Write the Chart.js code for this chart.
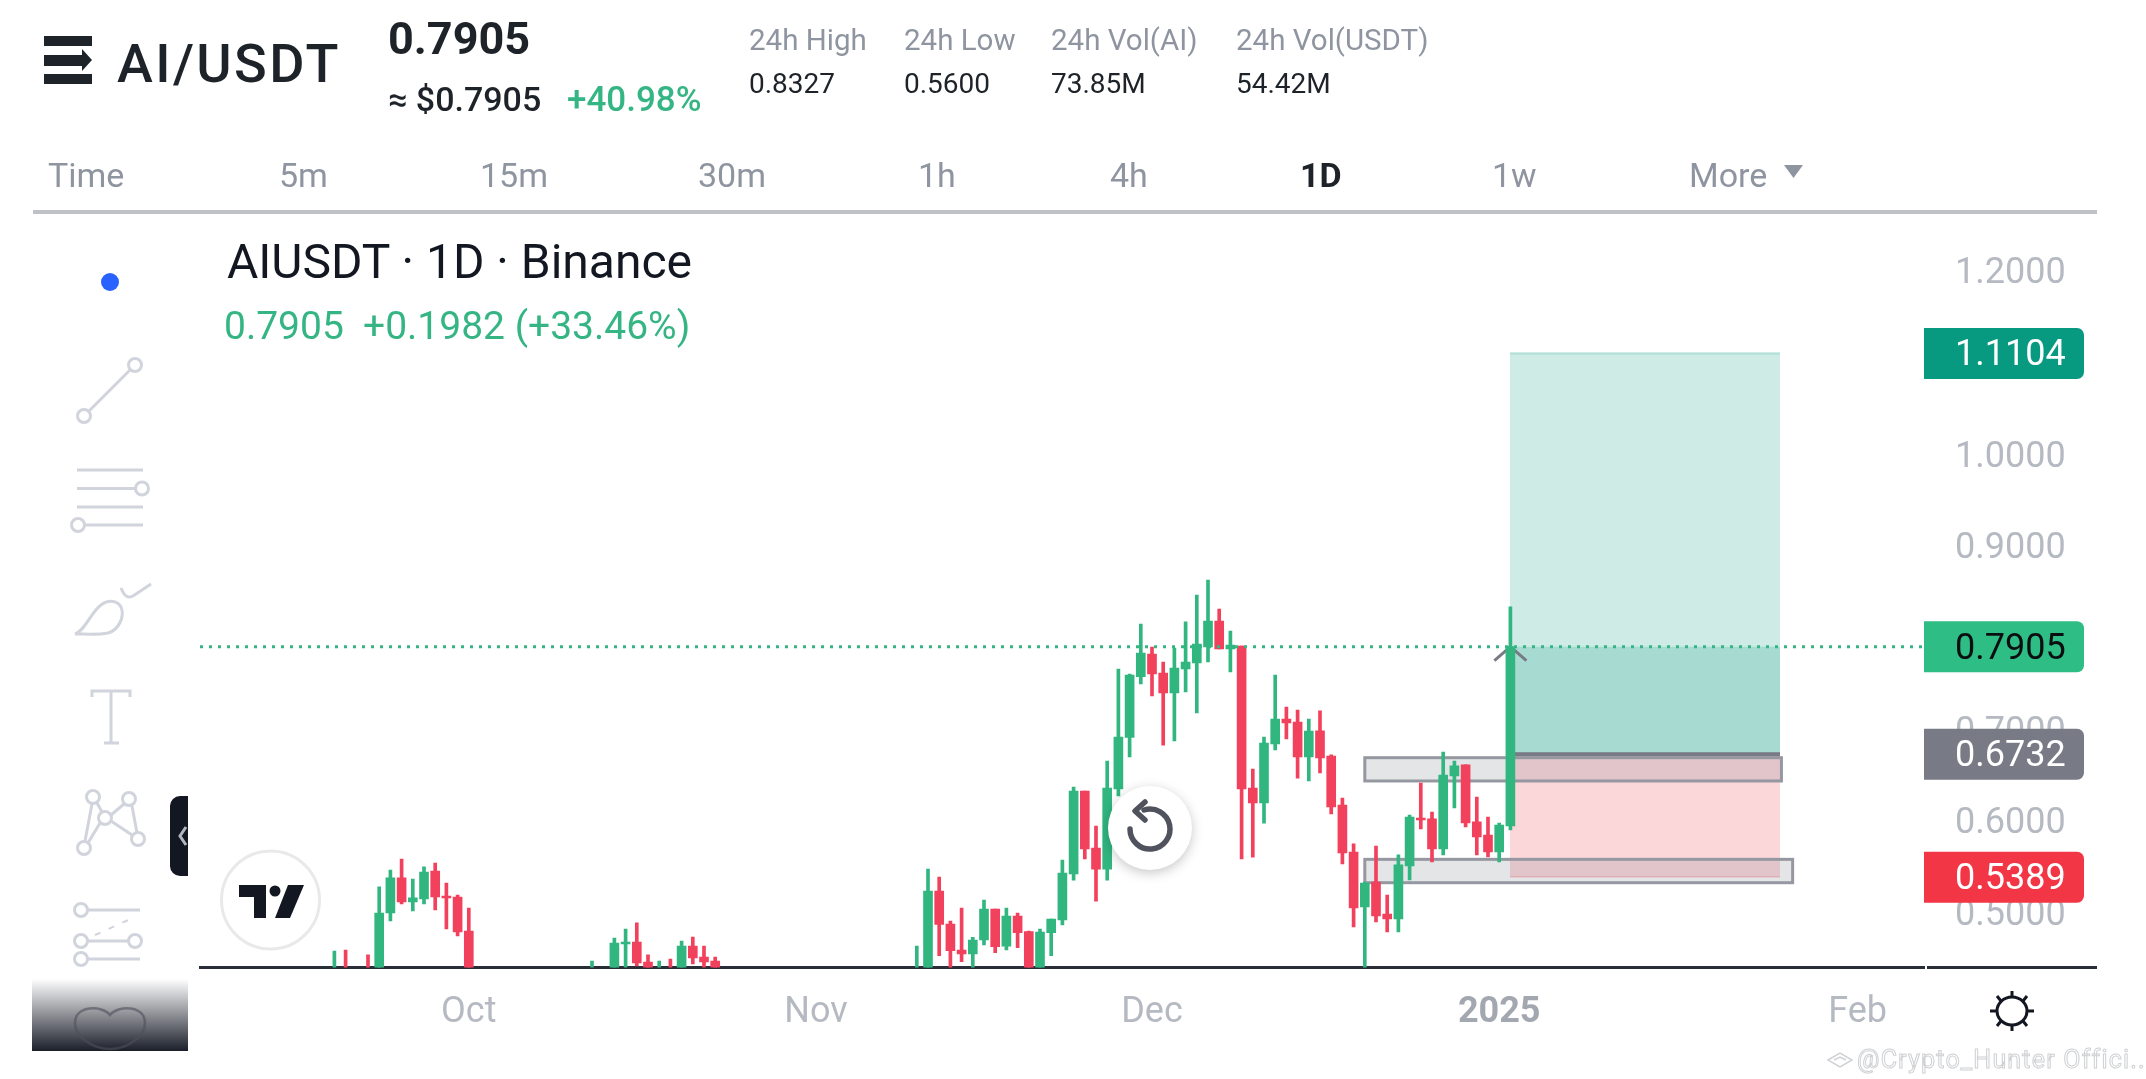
<!DOCTYPE html>
<html>
<head>
<meta charset="utf-8">
<title>AI/USDT</title>
<script src="https://cdn.jsdelivr.net/npm/chart.js"></script>
<style>
  html, body { margin: 0; padding: 0; background: #fff; overflow: hidden; }
  body { width: 2146px; height: 1079px; position: relative; font-family: Roboto, sans-serif; color: #1e2329; }
  canvas { position: absolute; left: 0; top: 0; }
  svg { position: absolute; left: 0; top: 0; pointer-events: none; }
  .t { position: absolute; line-height: 1; white-space: pre; }
  .stat { font-size: 29.5px; color: #8f95a0; top: 26px; }
  .val { font-size: 28px; top: 70px; }
  .tab { font-size: 34px; color: #8f95a0; top: 158px; }
  .green { color: #35b583; }
</style>
</head>
<body>
<canvas id="chart" width="2146" height="1079"></canvas>

<div class="t" style="left:117px;top:37px;font-size:54px;font-weight:500;letter-spacing:2.400px">AI/USDT</div>
<div class="t" style="left:388px;top:16px;font-size:45px;font-weight:700">0.7905</div>
<div class="t" style="left:388px;top:82px;font-size:34px;font-weight:500">≈ $0.7905</div>
<div class="t green" style="left:567px;top:82px;font-size:35px;font-weight:500">+40.98%</div>

<div class="t stat" style="left:749px">24h High</div>
<div class="t stat" style="left:904px">24h Low</div>
<div class="t stat" style="left:1051px">24h Vol(AI)</div>
<div class="t stat" style="left:1236px">24h Vol(USDT)</div>
<div class="t val" style="left:749px">0.8327</div>
<div class="t val" style="left:904px">0.5600</div>
<div class="t val" style="left:1051px">73.85M</div>
<div class="t val" style="left:1236px">54.42M</div>

<div class="t tab" style="left:48px">Time</div>
<div class="t tab" style="left:279px">5m</div>
<div class="t tab" style="left:480px">15m</div>
<div class="t tab" style="left:698px">30m</div>
<div class="t tab" style="left:918px">1h</div>
<div class="t tab" style="left:1110px">4h</div>
<div class="t tab" style="left:1300px;color:#1e2329;font-weight:700">1D</div>
<div class="t tab" style="left:1492px">1w</div>
<div class="t tab" style="left:1689px">More</div>

<div class="t" style="left:227px;top:238px;font-size:48px;color:#131722">AIUSDT · 1D · Binance</div>
<div class="t green" style="left:224px;top:307px;font-size:39px">0.7905</div>
<div class="t green" style="left:363px;top:307px;font-size:39px">+0.1982 (+33.46%)</div>

<div class="t" style="left:1857px;top:1047px;font-size:25px;letter-spacing:1.2px;color:#fff;-webkit-text-stroke:1px #cfd1d4">@Crypto_Hunter Offici...</div>

<svg width="2146" height="1079" viewBox="0 0 2146 1079">
  <defs>
    <linearGradient id="fade" x1="0" y1="0" x2="0" y2="1">
      <stop offset="0" stop-color="#fff"/>
      <stop offset="1" stop-color="#1b1f2a"/>
    </linearGradient>
  </defs>
  <!-- header menu mark -->
  <g fill="#1e2329">
    <rect x="44" y="36" width="48" height="10"/>
    <rect x="44" y="74" width="48" height="10"/>
    <path d="M44 55h38V49l10 11-10 11v-5H44z"/>
  </g>
  <rect x="33" y="210" width="2064" height="4" fill="#bec2c6"/>
  <path d="M1784 165h19l-9.500 13z" fill="#8f95a0"/>

  <!-- drawing tools -->
  <circle cx="110" cy="282" r="9" fill="#2962ff"/>
  <g fill="none" stroke="#d1d4dc" stroke-width="3">
    <circle cx="84" cy="416" r="6.500"/><circle cx="135" cy="365" r="6.500"/><path d="M89 411l41-41"/>
    <path d="M77 470h66M77 488.500h58M77 507h66M85 525h58"/><circle cx="142" cy="488.500" r="6.500"/><circle cx="78" cy="525" r="6.500"/>
    <path d="M75 634c10-3 16-22 26-29 8-6 17-4 20 2 4 9-2 23-13 26-10 2-23 1-33 1zM121 588c4 10 8 10 12 8l18-12"/>
    <path d="M92 697v-6h38v6M111 691v52M104 743h15"/>
    <circle cx="93" cy="797" r="6.500"/><circle cx="129" cy="799" r="6.500"/><circle cx="105" cy="818" r="6.500"/><circle cx="84" cy="848" r="6.500"/><circle cx="138" cy="839" r="6.500"/>
    <path d="M92 804l-7 37M97 803l5 9M88 843l12-20M111 815l13-11M132 806l5 27M111 821l21 14"/>
    <circle cx="81" cy="910" r="6.500"/><circle cx="81" cy="941" r="6.500"/><circle cx="135" cy="941" r="6.500"/><circle cx="81" cy="959" r="6.500"/>
    <path d="M88 910h52M88 941h40M88 959h52"/><path d="M95 935l40-18" stroke-dasharray="6 9" stroke-width="2"/>
  </g>
  <path d="M188 796h-8a10 10 0 0 0-10 10v60a10 10 0 0 0 10 10h8z" fill="#131722"/>
  <path d="M186 827l-6 9 6 9" fill="none" stroke="#b2b5be" stroke-width="3"/>
  <rect x="32" y="979" width="156" height="72" fill="url(#fade)"/>
  <path d="M110 1015c-8-10-35-10-35 8 0 14 18 26 35 26s35-12 35-26c0-18-27-18-35-8z" fill="none" stroke="#4d505a" stroke-width="2.500" opacity=".6"/>

  <!-- tradingview badge -->
  <circle cx="270.500" cy="900" r="49" fill="#fff" stroke="#e9e9e9" stroke-width="3"/>
  <g fill="#131722">
    <path d="M239 885h27v33h-12v-21h-15z"/><circle cx="275" cy="891" r="5.500"/><path d="M288 885h16l-14 33h-15z"/>
  </g>

  <!-- reload button -->
  <circle cx="1150" cy="828" r="42" fill="#fff" style="filter:drop-shadow(0 3px 6px rgba(0,0,0,.22))"/>
  <path d="M1144 810a20 20 0 1 1-14 19" fill="none" stroke="#50535e" stroke-width="5.500" stroke-linecap="round"/>
  <path d="M1145 802l-10 9 10 9" fill="none" stroke="#50535e" stroke-width="5.500" stroke-linecap="round" stroke-linejoin="round"/>

  <!-- theme icon -->
  <g fill="none" stroke="#131722" stroke-width="3">
    <ellipse cx="2012" cy="1011" rx="15" ry="14"/>
    <path d="M2012 991v6M2012 1025v6M1990 1011h7M2027 1011h7M1997 996l4 5M2027 996l-4 5M1997 1026l4-5M2027 1026l-4-5"/>
  </g>
  <g fill="none" stroke="#cfd1d4" stroke-width="1.500"><path d="M1828 1060l12-7 12 7-12 7zM1834 1060l6-3 6 3"/></g>
</svg>

<script>
// candles, x is a day counter from the left edge of the plot
const days = [12, 13, 15, 16, 17, 18, 19, 20, 21, 22, 23, 24,
  35, 37, 38, 39, 40, 41, 42, 43, 44, 45, 46,
  64, 65, 66, 67, 68, 69, 70, 71, 72, 73, 74, 75, 76, 77, 78, 79, 80, 81, 82, 83, 84, 85, 86, 87, 88, 89, 90,
  91, 92, 93, 94, 95, 96, 97, 98, 99, 100, 101, 102, 103, 104, 105, 106, 107, 108, 109, 110, 111, 112, 113, 114, 115, 116, 117];
const opens = [0.41, 0.43, 0.43, 0.43, 0.5000, 0.5382, 0.5120, 0.5153, 0.5458, 0.5185, 0.5174, 0.4803,
  0.41, 0.43, 0.4662, 0.4683, 0.4465, 0.41, 0.43, 0.43, 0.4640, 0.4520, 0.4476,
  0.41, 0.43, 0.5239, 0.4879, 0.4596, 0.4552, 0.4705, 0.5043, 0.4639, 0.4967, 0.4796, 0.43, 0.4785, 0.4923, 0.5425, 0.6331, 0.5709, 0.5479, 0.6352, 0.6916, 0.7578, 0.7825, 0.7618, 0.7400, 0.7662, 0.7727, 0.7902,
  0.8185, 0.7880, 0.7913, 0.6363, 0.6200, 0.6843, 0.7116, 0.7083, 0.6702, 0.6986, 0.6713, 0.6178, 0.5665, 0.5065, 0.5338, 0.4989, 0.4934, 0.5513, 0.6036, 0.6026, 0.5698, 0.6494, 0.6615, 0.5993, 0.5851, 0.5665, 0.5949];
const highs = [0.4585, 0.4596, 0.4542, 0.5284, 0.5469, 0.5589, 0.5371, 0.5502, 0.5545, 0.5327, 0.5196, 0.5054,
  0.4476, 0.4727, 0.4825, 0.4891, 0.4542, 0.4476, 0.4498, 0.4694, 0.4738, 0.4640, 0.4520,
  0.4639, 0.5479, 0.5392, 0.4912, 0.5054, 0.4734, 0.5141, 0.5043, 0.5054, 0.4999, 0.4803, 0.4825, 0.4934, 0.5578, 0.6374, 0.6331, 0.5949, 0.6658, 0.7662, 0.7607, 0.8153, 0.7902, 0.7738, 0.7891, 0.8175, 0.8469, 0.8633,
  0.8316, 0.8076, 0.7913, 0.6571, 0.6920, 0.7596, 0.7247, 0.7214, 0.7116, 0.7204, 0.6724, 0.6254, 0.5753, 0.5338, 0.5731, 0.5196, 0.5633, 0.6069, 0.6418, 0.6102, 0.6756, 0.6658, 0.6615, 0.6265, 0.6047, 0.5982, 0.8340];
const lows = [0.40, 0.40, 0.40, 0.42, 0.4913, 0.5098, 0.5022, 0.5098, 0.5033, 0.4825, 0.4749, 0.42,
  0.40, 0.42, 0.43, 0.4422, 0.42, 0.40, 0.40, 0.42, 0.4443, 0.43, 0.42,
  0.40, 0.42, 0.4534, 0.43, 0.4468, 0.43, 0.4650, 0.4567, 0.4596, 0.4621, 0.42, 0.42, 0.4534, 0.4869, 0.5359, 0.5589, 0.5130, 0.5359, 0.6276, 0.6702, 0.7498, 0.7367, 0.6832, 0.6876, 0.7411, 0.7182, 0.7738,
  0.7880, 0.7629, 0.5589, 0.5610, 0.5981, 0.6778, 0.6898, 0.6472, 0.6440, 0.6527, 0.6080, 0.5534, 0.4847, 0.43, 0.4902, 0.4792, 0.4792, 0.5360, 0.5916, 0.5556, 0.5633, 0.6145, 0.5938, 0.5633, 0.5611, 0.5556, 0.5905];
const closes = [0.43, 0.41, 0.41, 0.5000, 0.5382, 0.5120, 0.5164, 0.5447, 0.5174, 0.5164, 0.4793, 0.43,
  0.43, 0.4672, 0.4683, 0.4454, 0.43, 0.43, 0.41, 0.4640, 0.4509, 0.4465, 0.43,
  0.43, 0.5239, 0.4876, 0.4588, 0.4552, 0.4705, 0.5043, 0.4632, 0.4967, 0.4785, 0.43, 0.4792, 0.4934, 0.5436, 0.6331, 0.5698, 0.5479, 0.6363, 0.6920, 0.7596, 0.7836, 0.7607, 0.7400, 0.7673, 0.7738, 0.7934, 0.8185,
  0.7880, 0.7924, 0.6352, 0.6200, 0.6854, 0.7116, 0.7073, 0.6702, 0.6985, 0.6691, 0.6156, 0.5654, 0.5054, 0.5327, 0.4967, 0.4934, 0.5524, 0.6047, 0.6014, 0.5698, 0.6505, 0.6604, 0.5982, 0.5829, 0.5665, 0.5960, 0.7905];

// axis ticks
const priceTicks = [1.2, 1.0, 0.9, 0.7, 0.6, 0.5];
const monthTicks = [24, 55, 85, 116, 148];
const monthLabels = ['Oct', 'Nov', 'Dec', '2025', 'Feb'];

// levels of the long position tool and the two marked zones
const lastPrice = 0.7905;
const targetPrice = 1.1104;
const entryPrice = 0.6732;
const stopPrice = 0.5389;
const positionDays = [116.96, 141.07];
const zoneTops = [0.6694, 0.5585];
const zoneBottoms = [0.6440, 0.5330];
const zoneStarts = [104, 104];
const zoneEnds = [141.2, 142.2];

// price tags on the right axis
const tagPrices = [targetPrice, lastPrice, entryPrice, stopPrice];
const tagFills = ['#089981', '#2ebd85', '#787b86', '#f23645'];
const tagTexts = ['#fff', '#0b0e11', '#fff', '#fff'];

const GREEN = '#31b680';
const RED = '#f2415c';
const FONT = 'Roboto, sans-serif';
const PLOT_RIGHT = 1924;

const candleColors = days.map((d, i) => closes[i] >= opens[i] ? GREEN : RED);
const isYearTick = c => c.tick && c.tick.value === 116;

const overlays = {
  id: 'overlays',
  beforeDatasetsDraw(chart) {
    const { ctx, scales: { x, y } } = chart;
    const left = x.getPixelForValue(positionDays[0]);
    const w = x.getPixelForValue(positionDays[1]) - left;
    const band = (top, bottom, color) => {
      ctx.fillStyle = color;
      ctx.fillRect(left, y.getPixelForValue(top), w, y.getPixelForValue(bottom) - y.getPixelForValue(top));
    };
    ctx.save();
    band(targetPrice, entryPrice, 'rgba(8,153,129,.2)');
    band(lastPrice, entryPrice, 'rgba(8,153,129,.2)');
    band(entryPrice, stopPrice, 'rgba(242,54,69,.2)');
    band(targetPrice + 0.0015, targetPrice - 0.001, 'rgba(8,153,129,.22)');
    band(stopPrice + 0.001, stopPrice, 'rgba(242,54,69,.3)');

    ctx.lineWidth = 3;
    zoneTops.forEach((top, i) => {
      const zx = x.getPixelForValue(zoneStarts[i]);
      const zy = y.getPixelForValue(top);
      const zw = x.getPixelForValue(zoneEnds[i]) - zx;
      const zh = y.getPixelForValue(zoneBottoms[i]) - zy;
      ctx.fillStyle = 'rgba(120,123,134,.2)';
      ctx.fillRect(zx, zy, zw, zh);
      ctx.strokeStyle = '#9598a1';
      ctx.strokeRect(zx, zy, zw, zh);
    });

    ctx.fillStyle = '#787b86';
    ctx.fillRect(left, y.getPixelForValue(entryPrice) - 2, w, 4);

    // arrow mark at the tip of the last close
    const ax = x.getPixelForValue(days[days.length - 1]);
    const ay = y.getPixelForValue(lastPrice);
    ctx.strokeStyle = '#787b86';
    ctx.beginPath();
    ctx.moveTo(ax - 16, ay + 14);
    ctx.lineTo(ax, ay);
    ctx.lineTo(ax + 16, ay + 14);
    ctx.stroke();
    ctx.restore();
  },
  afterDraw(chart) {
    const { ctx, chartArea, scales: { y } } = chart;
    ctx.save();
    ctx.fillStyle = '#2a2e39';
    ctx.fillRect(chartArea.right + 3, chartArea.bottom - 1.5, 2097 - chartArea.right - 3, 3);
    ctx.textBaseline = 'middle';
    ctx.font = '36px ' + FONT;
    tagPrices.forEach((p, i) => {
      const c = y.getPixelForValue(p);
      ctx.fillStyle = tagFills[i];
      ctx.beginPath();
      ctx.roundRect(chartArea.right, c - 25.5, 2084 - chartArea.right, 51, [0, 7, 7, 0]);
      ctx.fill();
      ctx.fillStyle = tagTexts[i];
      ctx.fillText(p.toFixed(4), 1955, c + 3);
    });
    ctx.restore();
  }
};

new Chart(document.getElementById('chart'), {
  data: {
    datasets: [
      {
        type: 'line',
        data: [{ x: 0, y: lastPrice }, { x: (PLOT_RIGHT - 200) / 11.2, y: lastPrice }],
        borderColor: '#35b583',
        borderWidth: 3,
        borderDash: [3, 6],
        pointRadius: 0,
        order: 0
      },
      {
        type: 'bar',
        data: days.map((d, i) => ({ x: d, y: [opens[i], closes[i]] })),
        backgroundColor: candleColors,
        barThickness: 9,
        grouped: false,
        order: 1
      },
      {
        type: 'bar',
        data: days.map((d, i) => ({ x: d, y: [lows[i], highs[i]] })),
        backgroundColor: candleColors,
        barThickness: 3,
        grouped: false,
        order: 2
      }
    ]
  },
  options: {
    responsive: false,
    devicePixelRatio: 1,
    animation: false,
    layout: { padding: { left: 200, top: 215, right: 0, bottom: 0 } },
    plugins: { legend: { display: false }, tooltip: { enabled: false } },
    scales: {
      x: {
        type: 'linear',
        offset: false,
        min: 0,
        max: (PLOT_RIGHT - 200) / 11.2,
        grid: { display: false, drawTicks: false },
        border: { color: '#2a2e39', width: 3 },
        afterFit: s => { s.height = 111.5; },
        afterBuildTicks: s => { s.ticks = monthTicks.map(v => ({ value: v })); },
        ticks: {
          autoSkip: false,
          maxRotation: 0,
          padding: 24,
          callback: v => monthLabels[monthTicks.indexOf(v)],
          color: c => isYearTick(c) ? '#a3a7af' : '#b5b9c1',
          font: c => ({ family: FONT, size: 36, weight: isYearTick(c) ? '700' : '400' })
        }
      },
      y: {
        type: 'linear',
        position: 'right',
        min: 0.4405,
        max: 1.2615,
        grid: { display: false, drawTicks: false },
        border: { display: false },
        afterFit: s => { s.width = 2146 - PLOT_RIGHT; },
        afterBuildTicks: s => { s.ticks = priceTicks.map(v => ({ value: v })); },
        ticks: {
          autoSkip: false,
          padding: 31,
          labelOffset: 3,
          callback: v => v.toFixed(4),
          color: '#b5b9c1',
          font: { family: FONT, size: 36 }
        }
      }
    }
  },
  plugins: [overlays]
});
</script>
</body>
</html>
